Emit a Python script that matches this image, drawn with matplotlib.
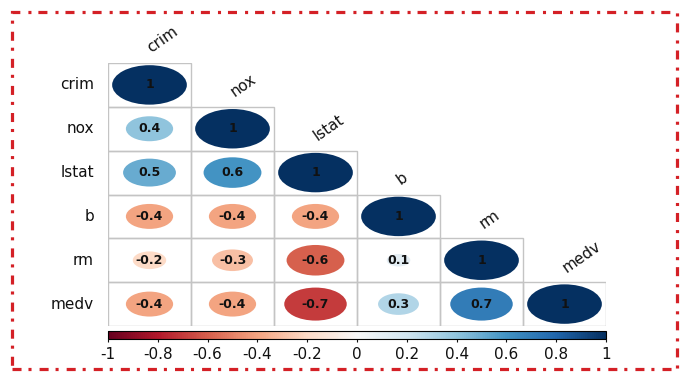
import numpy as np
import matplotlib
matplotlib.use("Agg")
import matplotlib.pyplot as plt
from matplotlib.patches import Ellipse, Rectangle
from matplotlib.colors import Normalize
import matplotlib.cm as cm

plt.rcParams['font.family'] = ['DejaVu Sans']
plt.rcParams['lines.scale_dashes'] = False

# variables and lower-triangle correlations (rounded, as printed)
names = ['crim', 'nox', 'lstat', 'b', 'rm', 'medv']
corr_rows = [
    [1],
    [0.4, 1],
    [0.5, 0.6, 1],
    [-0.4, -0.4, -0.4, 1],
    [-0.2, -0.3, -0.6, 0.1, 1],
    [-0.4, -0.4, -0.7, 0.3, 0.7, 1],
]
cbar_ticks = [-1, -0.8, -0.6, -0.4, -0.2, 0, 0.2, 0.4, 0.6, 0.8, 1]
cbar_labels = ['-1', '-0.8', '-0.6', '-0.4', '-0.2', '0', '0.2', '0.4', '0.6', '0.8', '1']

W, H = 686, 386
fig = plt.figure(figsize=(W / 100, H / 100), dpi=100)

def px_axes(x0, y0, x1, y1):
    return fig.add_axes([x0 / W, 1 - y1 / H, (x1 - x0) / W, (y1 - y0) / H])

cmap = plt.cm.RdBu
norm = Normalize(-1, 1)
n = len(names)

ax = px_axes(108, 63, 606, 326)
ax.set_xlim(0, n)
ax.set_ylim(n, 0)
ax.axis('off')

for i, row in enumerate(corr_rows):
    for j, r in enumerate(row):
        ax.add_patch(Rectangle((j, i), 1, 1, fill=False, ec='#c4c4c4', lw=1.0))
        d = 0.9 * np.sqrt(abs(r))
        ax.add_patch(Ellipse((j + 0.5, i + 0.5), d, d, color=cmap(norm(r)), lw=0))
        ax.text(j + 0.5, i + 0.5, f'{r:g}', ha='center', va='center',
                fontsize=9, fontweight='bold', color='#111111')

for i, name in enumerate(names):
    ax.text(-0.17, i + 0.5, name, ha='right', va='center', fontsize=11, color='#111111')
    ax.text(i + 0.52, i - 0.22, name, ha='left', va='baseline', rotation=35,
            rotation_mode='anchor', fontsize=11, color='#111111', clip_on=False)

# colour legend
cax = px_axes(108, 331, 606, 339)
sm = cm.ScalarMappable(norm=norm, cmap=cmap)
cb = fig.colorbar(sm, cax=cax, orientation='horizontal')
cb.outline.set_linewidth(0.8)
cb.set_ticks(cbar_ticks)
cb.set_ticklabels(cbar_labels)
cax.tick_params(length=2.5, width=0.8, labelsize=11, pad=3, colors='#111111')

# red dash-dot frame
fig.patches.append(Rectangle((12 / W, 1 - 369 / H), 665 / W, 357 / H,
                             transform=fig.transFigure, fill=False,
                             ec='#d42026', lw=2.3,
                             linestyle=(0, (6.5, 5, 2.2, 5.8))))

fig.savefig('out.png', dpi=100)
